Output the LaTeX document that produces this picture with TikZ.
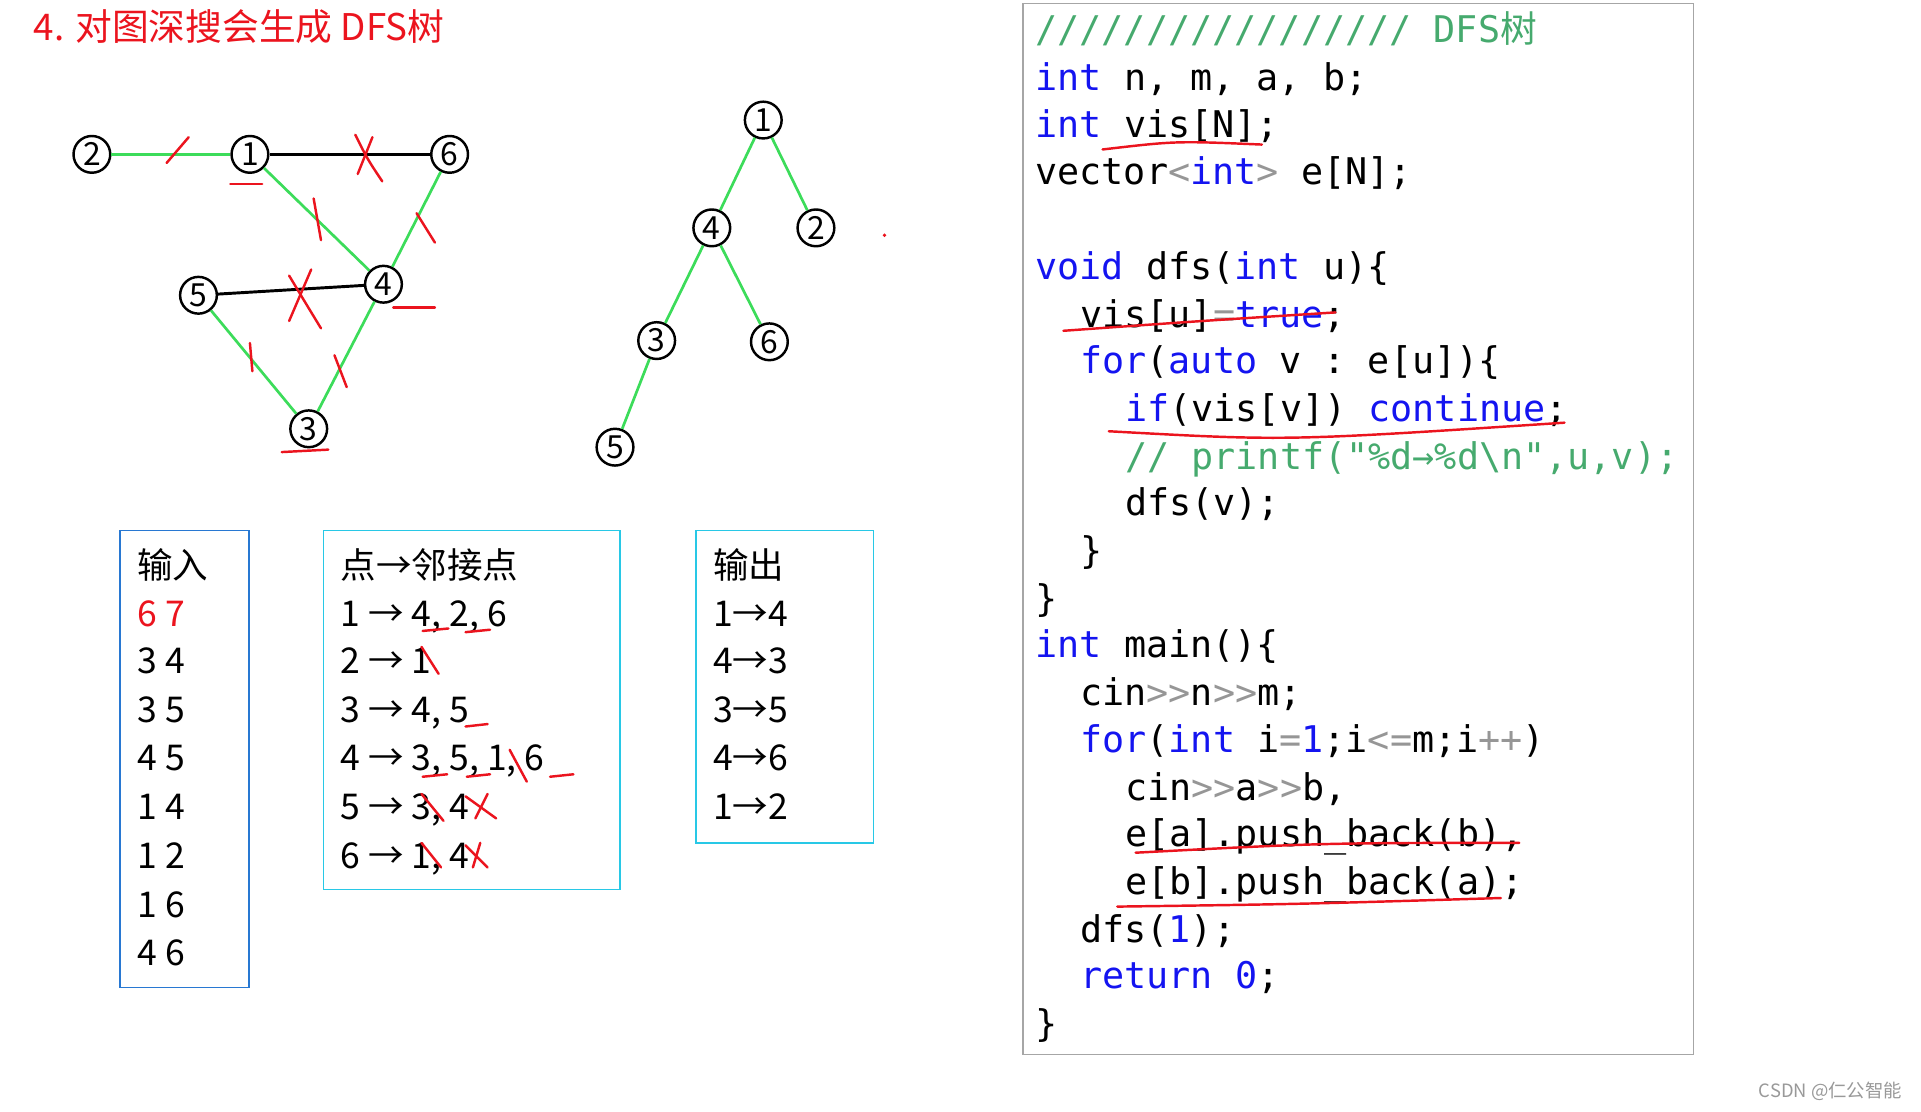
\documentclass[tikz,border=0pt]{standalone}
\usepackage{fontspec}
\setmainfont{Noto Sans CJK SC}
\setmonofont{DejaVu Sans Mono}
\newfontfamily\cjk{Noto Sans CJK SC}
\definecolor{kwblue}{RGB}{20,20,240}
\definecolor{cmgreen}{RGB}{70,170,110}
\definecolor{opgray}{RGB}{150,150,150}
\definecolor{edgegreen}{RGB}{60,220,90}
\definecolor{boxblue}{RGB}{40,120,210}
\definecolor{boxcyan}{RGB}{40,200,230}
\definecolor{mred}{RGB}{235,20,30}
\newcommand\kw[1]{\textcolor{kwblue}{#1}}
\newcommand\opg[1]{\textcolor{opgray}{#1}}
\newcommand\cmt[1]{\textcolor{cmgreen}{#1}}
\begin{document}
\begin{tikzpicture}[x=1pt,y=-1pt,
  vtx/.style={circle,draw,line width=2pt,minimum size=30pt,inner sep=0pt,font=\fontsize{26}{26}\selectfont},
  ge/.style={edgegreen,line width=2.2pt},
  be/.style={black,line width=2.4pt},
  rm/.style={mred,line width=2pt,line cap=round},
  cl/.style={anchor=base west,inner sep=0pt,font=\ttfamily\fontsize{30}{30}\selectfont},
  tl/.style={anchor=base west,inner sep=0pt,font=\fontsize{29}{29}\selectfont},
  box/.style={line width=1.5pt}]
\useasboundingbox (0,0) rectangle (1568,907);
\node[anchor=west,text=mred,font=\fontsize{30}{30}\selectfont] (title) at (24,22) {4. 对图深搜会生成 DFS树};
% left graph
\node[vtx] (g2) at (75,126) {2};
\node[vtx] (g1) at (204,126) {1};
\node[vtx] (g6) at (367,126) {6};
\node[vtx] (g4) at (313,232) {4};
\node[vtx] (g5) at (162,241) {5};
\node[vtx] (g3) at (252,350) {3};
\draw[ge] (g2)--(g1); \draw[be] (g1)--(g6); \draw[ge] (g1)--(g4); \draw[ge] (g6)--(g4);
\draw[be] (g5)--(g4); \draw[ge] (g5)--(g3); \draw[ge] (g4)--(g3);
% red marks graph
\draw[rm] (136,133)--(154,112);
\draw[rm] (290,110) .. controls (300,130) .. (312,148); \draw[rm] (304,112)--(292,142);
\draw[rm] (256,162)--(262,196);
\draw[rm] (340,174)--(355,198);
\draw[rm] (254,220)--(236,262); \draw[rm] (236,225) .. controls (248,245) .. (262,268);
\draw[rm] (204,280)--(206,303);
\draw[rm] (273,290)--(283,316);
\draw[rm] (188,150)--(214,150); \draw[rm] (321,251)--(355,251); \draw[rm] (230,369)--(268,367);
\fill[mred] (722,192) circle (1.5pt);
% tree
\node[vtx] (t1) at (623,98) {1};
\node[vtx] (t4) at (581,186) {4};
\node[vtx] (t2) at (666,186) {2};
\node[vtx] (t3) at (536,278) {3};
\node[vtx] (t6) at (628,279) {6};
\node[vtx] (t5) at (502,365) {5};
\draw[ge] (t1)--(t4); \draw[ge] (t1)--(t2); \draw[ge] (t4)--(t3); \draw[ge] (t4)--(t6); \draw[ge] (t3)--(t5);
% input box
\draw[box,boxblue] (98,433) rectangle (203,806);
\node[tl] (i0) at (112,472) {输入};
\node[tl,text=mred] (i1) at (112,511) {6 7};
\node[tl] (i2) at (112,550) {3 4};
\node[tl] (i3) at (112,590) {3 5};
\node[tl] (i4) at (112,629) {4 5};
\node[tl] (i5) at (112,669) {1 4};
\node[tl] (i6) at (112,709) {1 2};
\node[tl] (i7) at (112,749) {1 6};
\node[tl] (i8) at (112,788) {4 6};
% adjacency box
\draw[box,boxcyan] (264,433) rectangle (506,726);
\node[tl] (a0) at (278,472) {点→邻接点};
\node[tl] (a1) at (278,511) {1 → 4, 2, 6};
\node[tl] (a2) at (278,550) {2 → 1};
\node[tl] (a3) at (278,590) {3 → 4, 5};
\node[tl] (a4) at (278,629) {4 → 3, 5, 1, 6};
\node[tl] (a5) at (278,669) {5 → 3, 4};
\node[tl] (a6) at (278,709) {6 → 1, 4};
\draw[rm] (345,515)--(366,513); \draw[rm] (380,516)--(400,514);
\draw[rm] (344,528)--(358,550);
\draw[rm] (380,593)--(398,591);
\draw[rm] (345,634)--(365,632); \draw[rm] (381,634)--(400,632); \draw[rm] (416,612)--(430,638); \draw[rm] (449,634)--(468,632);
\draw[rm] (344,648)--(362,670); \draw[rm] (380,650)--(405,668); \draw[rm] (398,648)--(388,668);
\draw[rm] (344,688)--(360,708); \draw[rm] (380,690)--(398,708); \draw[rm] (392,688)--(386,708);
% output box
\draw[box,boxcyan] (568,433) rectangle (713,688);
\node[tl] (o0) at (582,472) {输出};
\node[tl] (o1) at (582,511) {1→4};
\node[tl] (o2) at (582,550) {4→3};
\node[tl] (o3) at (582,590) {3→5};
\node[tl] (o4) at (582,629) {4→6};
\node[tl] (o5) at (582,669) {1→2};
% code box
\draw[line width=1pt,black!35] (835,3) rectangle (1382,861);
\node[cl] (c0) at (845,35) {\cmt{///////////////// DFS{\cjk 树}}};
\node[cl] (c1) at (845,74) {\kw{int} n, m, a, b;};
\node[cl] (c2) at (845,112) {\kw{int} vis[N];};
\node[cl] (c3) at (845,151) {vector\opg{<}\kw{int}\opg{>} e[N];};
\node[cl] (c4) at (845,228) {\kw{void} dfs(\kw{int} u)\{};
\node[cl] (c5) at (881.6,267) {vis[u]\opg{=}\kw{true};};
\node[cl] (c6) at (881.6,305) {\kw{for}(\kw{auto} v : e[u])\{};
\node[cl] (c7) at (918.2,344) {\kw{if}(vis[v]) \kw{continue};};
\node[cl] (c8) at (918.2,383) {\cmt{// printf("\%d→\%d\textbackslash n",u,v);}};
\node[cl] (c9) at (918.2,421) {dfs(v);};
\node[cl] (c10) at (881.6,460) {\}};
\node[cl] (c11) at (845,499) {\}};
\node[cl] (c12) at (845,537) {\kw{int} main()\{};
\node[cl] (c13) at (881.6,576) {cin\opg{>>}n\opg{>>}m;};
\node[cl] (c14) at (881.6,614) {\kw{for}(\kw{int} i\opg{=}\kw{1};i\opg{<=}m;i\opg{++})};
\node[cl] (c15) at (918.2,653) {cin\opg{>>}a\opg{>>}b,};
\node[cl] (c16) at (918.2,691) {e[a].push\_back(b),};
\node[cl] (c17) at (918.2,730) {e[b].push\_back(a);};
\node[cl] (c18) at (881.6,769) {dfs(\kw{1});};
\node[cl] (c19) at (881.6,807) {\kw{return} \kw{0};};
\node[cl] (c20) at (845,846) {\}};
% code red marks
\draw[rm] (900,122) .. controls (960,115) .. (1030,118);
\draw[rm] (868,270) .. controls (980,262) .. (1090,255);
\draw[rm] (905,352) .. controls (1050,360) .. (1277,345);
\draw[rm] (927,696) .. controls (1080,688) .. (1240,688);
\draw[rm] (912,740) .. controls (1060,738) .. (1225,733);
% watermark
\node[anchor=east,text=black!40,font=\fontsize{15}{15}\selectfont] (wm) at (1556,891) {CSDN @仁公智能};
\end{tikzpicture}
\end{document}
